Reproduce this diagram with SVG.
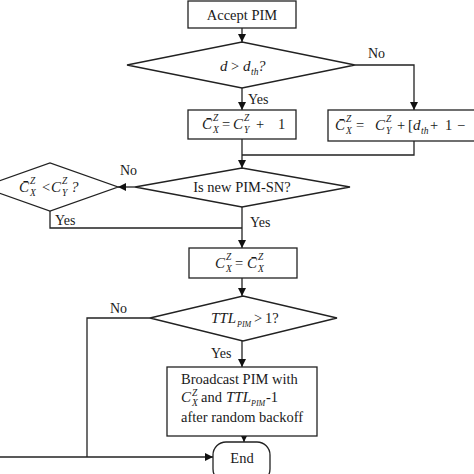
<svg xmlns="http://www.w3.org/2000/svg" width="474" height="474" viewBox="0 0 474 474">
<style>
text{font-family:"Liberation Serif","Times New Roman",serif;font-size:14px;fill:#1a1a1a}
.i{font-style:italic;font-size:15px}
.s{font-size:9.5px;font-style:italic}
.c{text-anchor:middle}
.b{font-size:14.5px}
.n{fill:#fff;stroke:#222;stroke-width:1.3}
.l{fill:none;stroke:#222;stroke-width:1.3}
</style>
<defs>
<marker id="a" viewBox="0 0 10 10" refX="10" refY="5" markerWidth="8" markerHeight="8" markerUnits="userSpaceOnUse" orient="auto">
<path d="M0,0 L10,5 L0,10 z" fill="#111"/>
</marker>
</defs>
<g id="connectors">
<path class="l" d="M242,28 V42" marker-end="url(#a)"/>
<path class="l" d="M355,65 H414 V110" marker-end="url(#a)"/>
<path class="l" d="M242,88 V110" marker-end="url(#a)"/>
<path class="l" d="M242,139 V168" marker-end="url(#a)"/>
<path class="l" d="M414,141 V155 H242"/>
<path class="l" d="M135,187 H118" marker-end="url(#a)"/>
<path class="l" d="M50,211 V228 H242"/>
<path class="l" d="M242,207 V248" marker-end="url(#a)"/>
<path class="l" d="M242,278 V296" marker-end="url(#a)"/>
<path class="l" d="M242,341 V367" marker-end="url(#a)"/>
<path class="l" d="M150,318 H87 V457"/>
<path class="l" d="M0,457 H213" marker-end="url(#a)"/>
<path class="l" d="M244,436 V442" marker-end="url(#a)"/>
<text x="368" y="58">No</text>
<text x="248" y="104">Yes</text>
<text x="120" y="175">No</text>
<text x="55" y="225">Yes</text>
<text x="250" y="227">Yes</text>
<text x="110" y="313">No</text>
<text x="211" y="358">Yes</text>
</g>
<g id="accept">
<rect class="n" x="188" y="1" width="108" height="27"/>
<text class="c b" x="242" y="20">Accept PIM</text>
</g>
<g id="dcheck">
<polygon class="n" points="127,65 242,42 355,65 242,88"/>
<text class="i" x="220" y="71">d</text>
<text class="b" x="231" y="71">&gt;</text>
<text class="i" x="243" y="71">d</text>
<text class="s" x="251" y="75">th</text>
<text class="i" x="258" y="71">?</text>
</g>
<g id="inc1">
<rect class="n" x="188" y="110" width="108" height="29"/>
<text class="i" x="202" y="129">C&#x304;</text>
<text class="s" x="213" y="121">Z</text>
<text class="s" x="213" y="133">X</text>
<text class="b" x="222" y="129">=</text>
<text class="i" x="233" y="129">C</text>
<text class="s" x="244" y="121">Z</text>
<text class="s" x="244" y="133">Y</text>
<text class="b" x="256" y="129">+</text>
<text class="b" x="278" y="129">1</text>
</g>
<g id="inc2">
<rect class="n" x="328" y="110" width="160" height="31"/>
<text class="i" x="335" y="130">C&#x304;</text>
<text class="s" x="346" y="122">Z</text>
<text class="s" x="346" y="134">X</text>
<text class="b" x="356" y="130">=</text>
<text class="i" x="375" y="130">C</text>
<text class="s" x="386" y="122">Z</text>
<text class="s" x="386" y="134">Y</text>
<text class="b" x="397" y="130">+</text>
<text class="b" x="408" y="130">[</text>
<text class="i" x="413" y="130">d</text>
<text class="s" x="421" y="134">th</text>
<text class="b" x="430" y="130">+</text>
<text class="b" x="445" y="130">1</text>
<text class="b" x="457" y="130">−</text>
</g>
<g id="newsn">
<polygon class="n" points="135,187 242,168 350,187 242,207"/>
<text class="c b" x="242" y="192">Is new PIM-SN?</text>
</g>
<g id="cmp">
<polygon class="n" points="-18,187 50,163 118,187 50,211"/>
<text class="i" x="19" y="192">C&#x304;</text>
<text class="s" x="30" y="184">Z</text>
<text class="s" x="30" y="196">X</text>
<text class="b" x="42" y="192">&lt;</text>
<text class="i" x="51" y="192">C</text>
<text class="s" x="62" y="184">Z</text>
<text class="s" x="62" y="196">Y</text>
<text class="i" x="71" y="192">?</text>
</g>
<g id="assign">
<rect class="n" x="189" y="248" width="108" height="30"/>
<text class="i" x="215" y="268">C</text>
<text class="s" x="226" y="260">Z</text>
<text class="s" x="226" y="272">X</text>
<text class="b" x="235" y="268">=</text>
<text class="i" x="247" y="268">C&#x304;</text>
<text class="s" x="258" y="260">Z</text>
<text class="s" x="258" y="272">X</text>
</g>
<g id="ttl">
<polygon class="n" points="150,318 243,296 337,318 243,341"/>
<text class="i" x="211" y="323">TTL</text>
<text class="s" x="237" y="327" style="font-size:8px">PIM</text>
<text class="b" x="254" y="323">&gt;</text>
<text class="b" x="265" y="323">1?</text>
</g>
<g id="broadcast">
<rect class="n" x="167" y="367" width="150" height="69"/>
<text class="b" x="181" y="384">Broadcast PIM with</text>
<text class="i" x="181" y="402">C</text>
<text class="s" x="192" y="395.5">Z</text>
<text class="s" x="192" y="406">X</text>
<text class="b" x="201" y="402">and</text>
<text class="i" x="226" y="402">TTL</text>
<text class="s" x="251" y="405.5" style="font-size:8px">PIM</text>
<text class="b" x="266" y="402">-1</text>
<text class="b" x="181" y="422">after random backoff</text>
</g>
<g id="end">
<rect class="n" x="213" y="442" width="57" height="40" rx="13"/>
<text class="c b" x="242" y="463">End</text>
</g>
</svg>
